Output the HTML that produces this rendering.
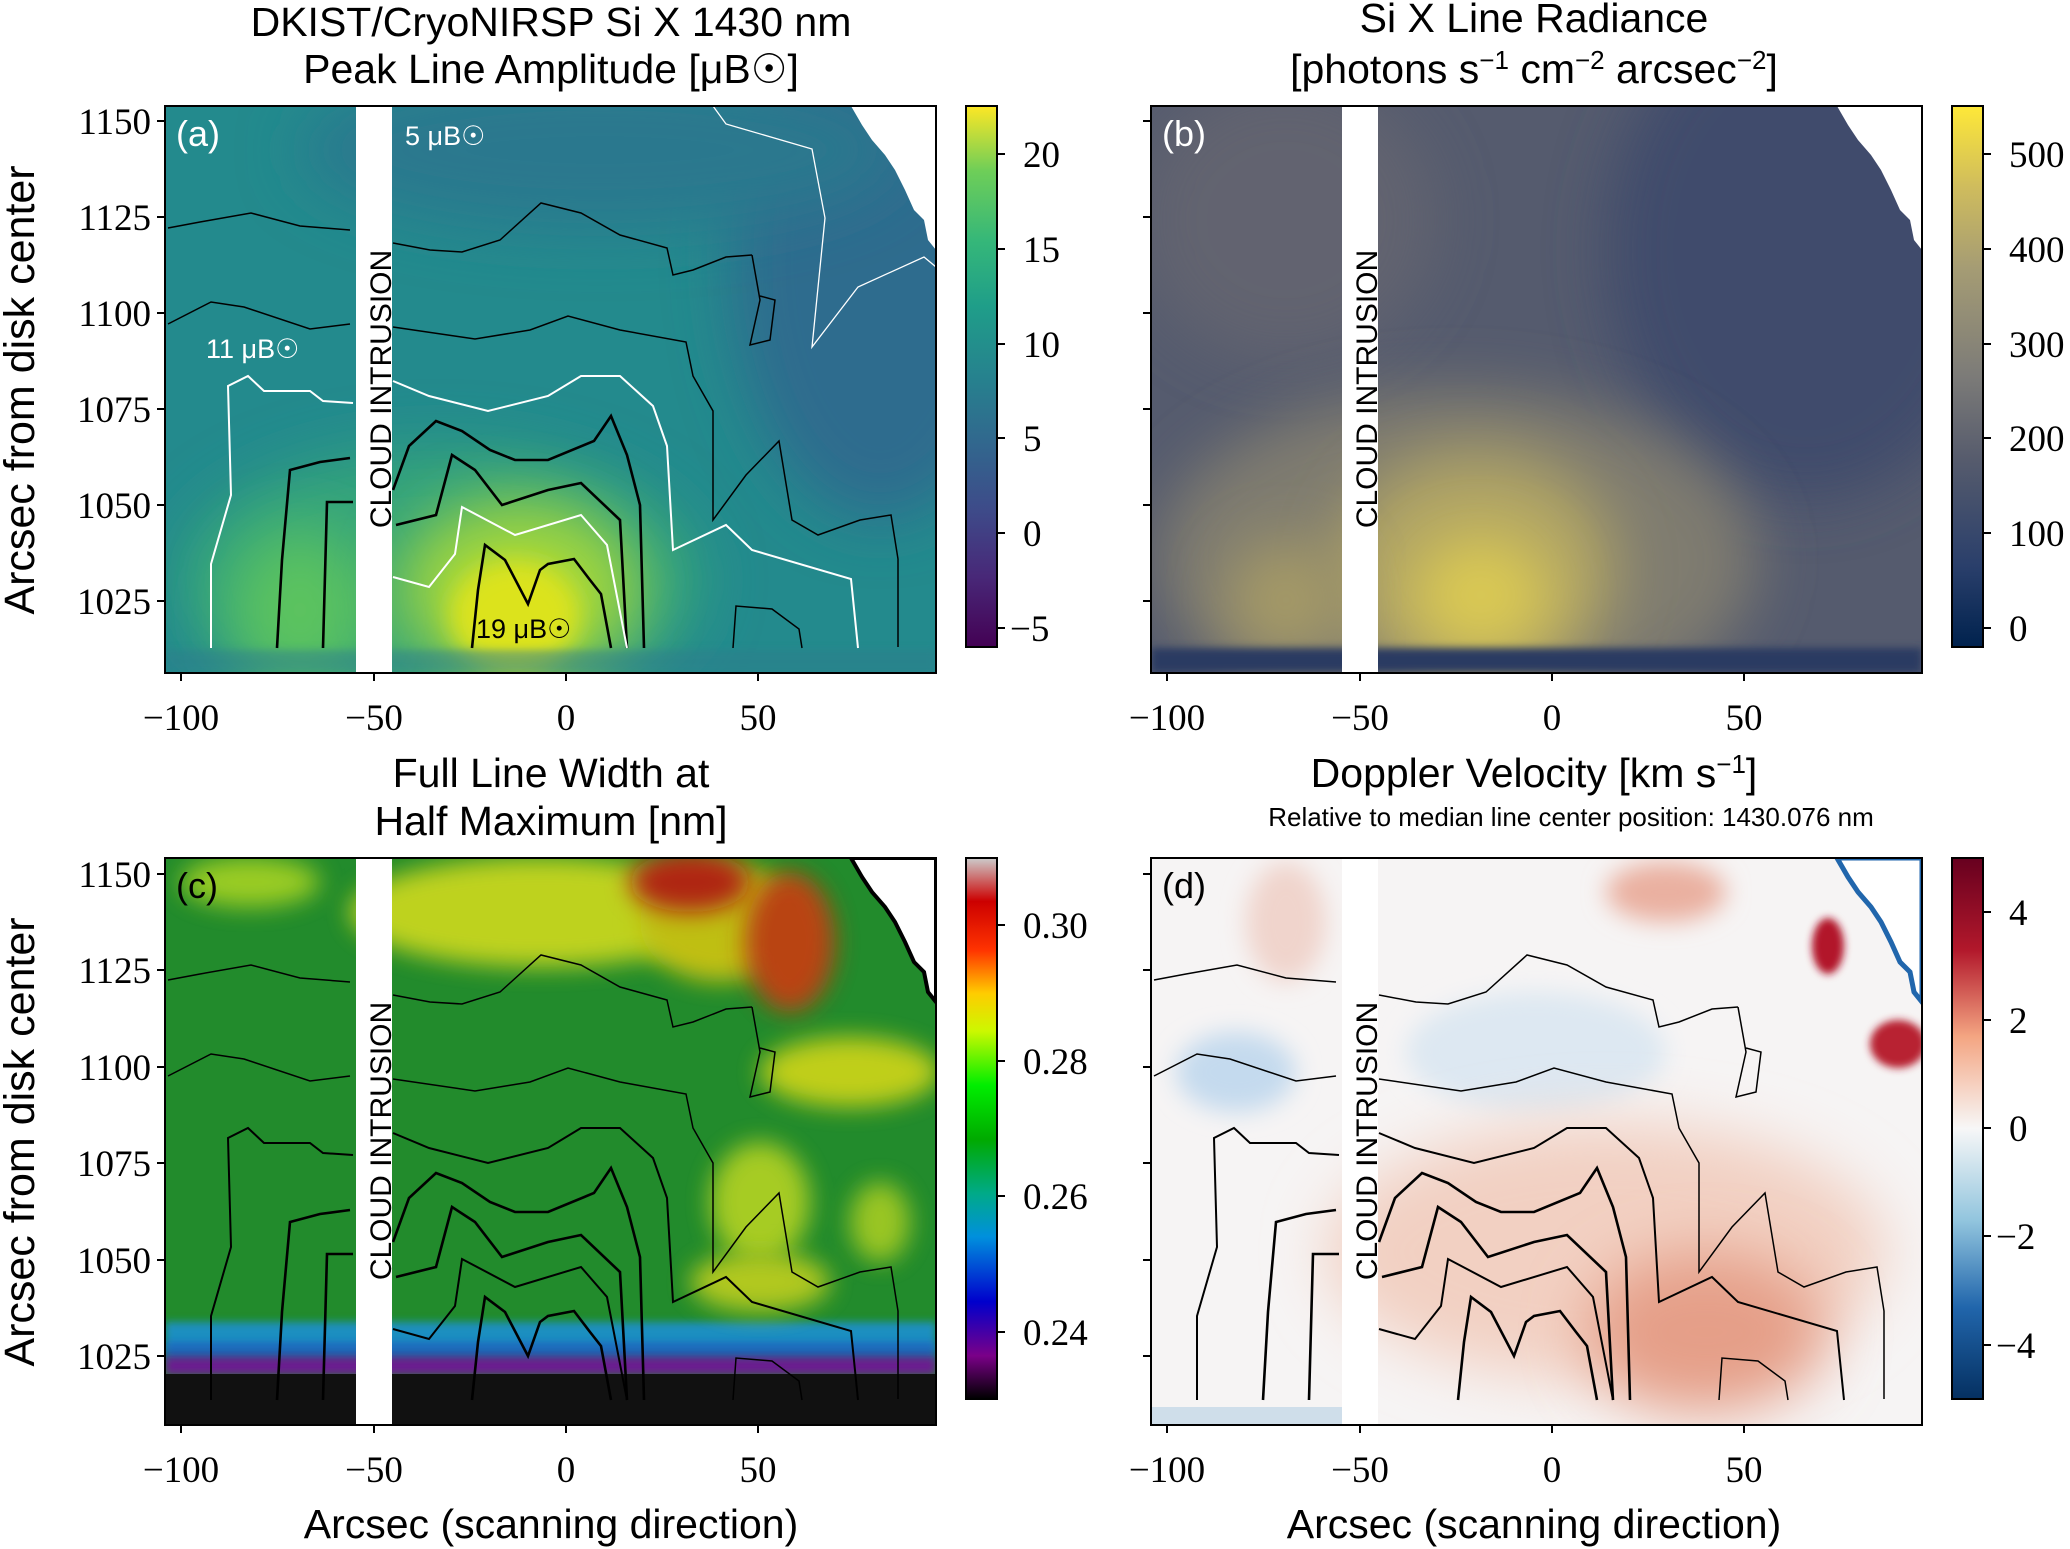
<!DOCTYPE html>
<html><head><meta charset="utf-8"><style>
html,body{margin:0;padding:0;background:#fff}
svg{display:block}
.t{font-family:"Liberation Sans",sans-serif;fill:#000}
.n{font-family:"Liberation Serif",serif;font-size:37px;fill:#000}
</style></head><body>
<svg width="2070" height="1549" viewBox="0 0 2070 1549" xmlns="http://www.w3.org/2000/svg">
<defs>
<linearGradient id="vir" x1="0" y1="1" x2="0" y2="0">
<stop offset="0" stop-color="#440154"/><stop offset="0.13" stop-color="#482878"/><stop offset="0.25" stop-color="#3e4a89"/><stop offset="0.38" stop-color="#31688e"/><stop offset="0.5" stop-color="#26828e"/><stop offset="0.63" stop-color="#1f9e89"/><stop offset="0.75" stop-color="#35b779"/><stop offset="0.88" stop-color="#6ece58"/><stop offset="1" stop-color="#fde725"/></linearGradient>
<linearGradient id="civ" x1="0" y1="1" x2="0" y2="0">
<stop offset="0" stop-color="#00224e"/><stop offset="0.15" stop-color="#2a3f6b"/><stop offset="0.35" stop-color="#575c6d"/><stop offset="0.5" stop-color="#7c7b78"/><stop offset="0.7" stop-color="#a59c74"/><stop offset="0.85" stop-color="#cfbc5d"/><stop offset="1" stop-color="#fee838"/></linearGradient>
<linearGradient id="nip" x1="0" y1="1" x2="0" y2="0">
<stop offset="0" stop-color="#000"/><stop offset="0.08" stop-color="#7a0088"/><stop offset="0.18" stop-color="#0000cc"/><stop offset="0.3" stop-color="#0090dd"/><stop offset="0.38" stop-color="#00aa88"/><stop offset="0.48" stop-color="#00aa00"/><stop offset="0.58" stop-color="#00ee00"/><stop offset="0.68" stop-color="#ccf800"/><stop offset="0.75" stop-color="#ffcc00"/><stop offset="0.83" stop-color="#ff3300"/><stop offset="0.92" stop-color="#cc0000"/><stop offset="1" stop-color="#cccccc"/></linearGradient>
<linearGradient id="rdbu" x1="0" y1="1" x2="0" y2="0">
<stop offset="0" stop-color="#053061"/><stop offset="0.17" stop-color="#2166ac"/><stop offset="0.33" stop-color="#92c5de"/><stop offset="0.5" stop-color="#f7f7f7"/><stop offset="0.67" stop-color="#f4a582"/><stop offset="0.83" stop-color="#b2182b"/><stop offset="1" stop-color="#67001f"/></linearGradient>
<filter id="b1" x="-50%" y="-50%" width="200%" height="200%"><feGaussianBlur stdDeviation="30"/></filter>
<filter id="b2" x="-50%" y="-50%" width="200%" height="200%"><feGaussianBlur stdDeviation="12"/></filter>
<filter id="b3" x="-50%" y="-50%" width="200%" height="200%"><feGaussianBlur stdDeviation="4"/></filter>
<clipPath id="pc"><rect x="165" y="106" width="771" height="567"/></clipPath>
<g id="cthin" fill="none" stroke-width="1.5">
<path d="M168,228 L200,222 L251,213 L300,226 L350,230"/>
<path d="M393,243 L430,250 L462,252 L500,240 L541,203 L581,213 L620,235 L667,248 L673,275 L693,270 L726,257 L752,255"/>
<path d="M168,324 L211,302 L244,307 L310,329 L350,324"/>
<path d="M393,327 L475,339 L530,330 L568,316 L620,330 L686,342 L693,376 L713,411 L713,520 L746,475 L779,441 L792,520 L818,535 L860,520 L891,515 L898,559 L898,647"/>
<path d="M733,648 L736,606 L772,609 L799,629 L802,648"/>
<path d="M752,255 L760,300 L750,345 L770,340 L775,300 L760,296"/>
</g>
<g id="cthick" fill="none" stroke-width="2.6">
<path d="M277,648 L282,560 L290,470 L320,462 L350,458"/>
<path d="M393,490 L409,446 L436,421 L462,431 L490,450 L515,460 L548,460 L594,441 L611,416 L627,455 L640,505 L644,648"/>
<path d="M323,648 L327,502 L353,502"/>
<path d="M396,525 L436,515 L452,455 L475,470 L502,505 L548,490 L581,483 L620,520 L627,648"/>
<path d="M472,648 L478,590 L485,545 L505,560 L528,604 L540,570 L548,564 L574,559 L590,580 L601,594 L611,648"/>
</g>
<g id="cwhite" fill="none" stroke-width="2">
<path d="M211,648 L211,564 L231,495 L228,386 L248,376 L264,391 L310,391 L323,401 L353,403"/>
<path d="M393,381 L429,396 L488,411 L548,396 L581,376 L620,376 L653,406 L667,446 L673,550 L726,525 L752,550 L851,579 L858,648"/>
<path d="M393,577 L429,587 L455,554 L462,507 L515,535 L581,515 L607,545 L627,648"/>
</g>
<path id="corner" d="M851,106 L936,106 L936,250 L928,240 L924,220 L914,210 L905,190 L895,170 L885,155 L872,140 L862,125 Z"/>
</defs>

<!-- Panel a -->
<g clip-path="url(#pc)">
<rect x="165" y="106" width="771" height="567" fill="#238a8d"/>
<ellipse cx="880" cy="260" rx="150" ry="260" fill="#2f6c8e" filter="url(#b1)"/>
<ellipse cx="600" cy="150" rx="300" ry="80" fill="#2a788e" filter="url(#b1)"/>
<ellipse cx="440" cy="580" rx="260" ry="130" fill="#35a57a" filter="url(#b1)"/>
<ellipse cx="300" cy="610" rx="70" ry="80" fill="#5cc35e" filter="url(#b1)"/>
<ellipse cx="520" cy="590" rx="120" ry="90" fill="#a0d63e" filter="url(#b1)"/>
<ellipse cx="515" cy="615" rx="65" ry="55" fill="#dce31e" filter="url(#b2)"/>
<rect x="165" y="650" width="771" height="23" fill="#2f7e8c" opacity="0.5" filter="url(#b3)"/>
<use href="#cthin" stroke="#000"/>
<use href="#cthick" stroke="#000"/>
<use href="#cwhite" stroke="#fff"/>
<path d="M713,106 L726,124 L812,149 L825,218 L812,347 L858,287 L924,257 L936,267" fill="none" stroke="#fff" stroke-width="1.3"/>
<use href="#corner" fill="#fff"/>
</g>
<rect x="356" y="106" width="36" height="567" fill="#fff"/>
<rect x="165" y="106" width="771" height="567" fill="none" stroke="#000" stroke-width="2"/>
<text class="t" font-size="30" transform="translate(383,389) rotate(-90)" text-anchor="middle" dominant-baseline="middle" x="0" y="0">CLOUD INTRUSION</text>
<text class="t" font-size="36" x="176" y="146" style="fill:#fff">(a)</text>
<text class="t" font-size="27" x="405" y="145" style="fill:#fff">5 μB☉</text>
<text class="t" font-size="27" x="206" y="358" style="fill:#fff">11 μB☉</text>
<text class="t" font-size="27" x="476" y="638">19 μB☉</text>

<!-- Panel b -->
<g transform="translate(986,0)" clip-path="url(#pc)">
<rect x="165" y="106" width="771" height="567" fill="#555b6e"/>
<ellipse cx="820" cy="250" rx="200" ry="250" fill="#404c6c" filter="url(#b1)"/>
<ellipse cx="300" cy="220" rx="150" ry="140" fill="#62646f" filter="url(#b1)"/>
<ellipse cx="470" cy="560" rx="300" ry="170" fill="#7f7c70" filter="url(#b1)"/>
<ellipse cx="490" cy="570" rx="140" ry="120" fill="#b0a465" filter="url(#b1)"/>
<ellipse cx="495" cy="595" rx="70" ry="60" fill="#dac952" filter="url(#b1)"/>
<ellipse cx="300" cy="600" rx="60" ry="60" fill="#a59a66" filter="url(#b1)"/>
<rect x="165" y="648" width="771" height="25" fill="#2a3a62" filter="url(#b3)"/>
<use href="#corner" fill="#fff"/>
</g>
<rect x="1342" y="106" width="36" height="567" fill="#fff"/>
<rect x="1151" y="106" width="771" height="567" fill="none" stroke="#000" stroke-width="2"/>
<text class="t" font-size="30" transform="translate(1369,389) rotate(-90)" text-anchor="middle" dominant-baseline="middle">CLOUD INTRUSION</text>
<text class="t" font-size="36" x="1162" y="146" style="fill:#fff">(b)</text>

<!-- Panel c -->
<g transform="translate(0,752)" clip-path="url(#pc)">
<rect x="165" y="106" width="771" height="567" fill="#228b2c"/>
<rect x="165" y="570" width="771" height="30" fill="#1a8fc0" filter="url(#b3)"/>
<rect x="165" y="590" width="771" height="20" fill="#1a60c0" opacity="0.8" filter="url(#b3)"/>
<rect x="165" y="605" width="771" height="18" fill="#6a1a90" filter="url(#b3)"/>
<rect x="165" y="622" width="771" height="51" fill="#111"/>
<g opacity="0.8">
<ellipse cx="540" cy="160" rx="190" ry="55" fill="#e6e41a" filter="url(#b2)"/>
<ellipse cx="250" cy="130" rx="70" ry="25" fill="#b9dd20" filter="url(#b2)"/>
<ellipse cx="720" cy="170" rx="80" ry="60" fill="#e8cc10" filter="url(#b2)"/>
<ellipse cx="690" cy="130" rx="60" ry="30" fill="#d41010" filter="url(#b2)"/>
<ellipse cx="790" cy="190" rx="45" ry="70" fill="#e03010" filter="url(#b2)"/>
<ellipse cx="850" cy="320" rx="90" ry="35" fill="#e8e018" filter="url(#b2)"/>
<ellipse cx="760" cy="450" rx="50" ry="60" fill="#c8dc20" filter="url(#b2)"/>
<ellipse cx="760" cy="530" rx="70" ry="30" fill="#d6d81a" filter="url(#b2)"/>
<ellipse cx="880" cy="470" rx="30" ry="40" fill="#b8d420" filter="url(#b2)"/>
</g>
<use href="#cthin" stroke="#000"/>
<use href="#cthick" stroke="#000"/>
<use href="#cwhite" stroke="#000"/>
<use href="#corner" fill="#fff" stroke="#000" stroke-width="4"/>
</g>
<rect x="356" y="858" width="36" height="567" fill="#fff"/>
<rect x="165" y="858" width="771" height="567" fill="none" stroke="#000" stroke-width="2"/>
<text class="t" font-size="30" transform="translate(383,1141) rotate(-90)" text-anchor="middle" dominant-baseline="middle">CLOUD INTRUSION</text>
<text class="t" font-size="36" x="176" y="898">(c)</text>

<!-- Panel d -->
<g transform="translate(986,752)" clip-path="url(#pc)">
<rect x="165" y="106" width="771" height="567" fill="#f6f4f4"/>
<ellipse cx="250" cy="320" rx="60" ry="40" fill="#c4daee" filter="url(#b2)"/>
<ellipse cx="550" cy="300" rx="130" ry="60" fill="#dde8f2" filter="url(#b2)"/>
<ellipse cx="300" cy="170" rx="40" ry="60" fill="#f0d4cc" filter="url(#b2)"/>
<ellipse cx="620" cy="500" rx="280" ry="130" fill="#f2d0c2" filter="url(#b1)"/>
<ellipse cx="720" cy="580" rx="120" ry="80" fill="#e59f88" filter="url(#b1)"/>
<ellipse cx="680" cy="140" rx="60" ry="30" fill="#eab0a0" filter="url(#b2)"/>
<ellipse cx="842" cy="194" rx="16" ry="28" fill="#b2182b" filter="url(#b3)"/>
<ellipse cx="912" cy="292" rx="28" ry="24" fill="#b82030" filter="url(#b3)"/>
<rect x="165" y="655" width="200" height="18" fill="#a8c8e0" opacity="0.5"/>
<use href="#cthin" stroke="#000"/>
<use href="#cthick" stroke="#000"/>
<use href="#cwhite" stroke="#000"/>
<use href="#corner" fill="#fff" stroke="#2166ac" stroke-width="5"/>
</g>
<rect x="1342" y="858" width="36" height="567" fill="#fff"/>
<rect x="1151" y="858" width="771" height="567" fill="none" stroke="#000" stroke-width="2"/>
<text class="t" font-size="30" transform="translate(1369,1141) rotate(-90)" text-anchor="middle" dominant-baseline="middle">CLOUD INTRUSION</text>
<text class="t" font-size="36" x="1162" y="898">(d)</text>

<!-- Colorbars -->
<rect x="966" y="106" width="31" height="541" fill="url(#vir)" stroke="#000" stroke-width="2"/>
<rect x="1952" y="106" width="31" height="541" fill="url(#civ)" stroke="#000" stroke-width="2"/>
<rect x="966" y="858" width="31" height="541" fill="url(#nip)" stroke="#000" stroke-width="2"/>
<rect x="1952" y="858" width="31" height="541" fill="url(#rdbu)" stroke="#000" stroke-width="2"/>

<g stroke="#000" stroke-width="2">
<path d="M997,154h8M997,249h8M997,344h8M997,438h8M997,533h8M997,628h8"/>
<path d="M1983,154h8M1983,249h8M1983,344h8M1983,438h8M1983,533h8M1983,628h8"/>
<path d="M997,925h8M997,1061h8M997,1196h8M997,1332h8"/>
<path d="M1983,912h8M1983,1020h8M1983,1128h8M1983,1236h8M1983,1345h8"/>
<path d="M165,121h-8M165,217h-8M165,313h-8M165,409h-8M165,505h-8M165,601h-8"/>
<path d="M1151,121h-8M1151,217h-8M1151,313h-8M1151,409h-8M1151,505h-8M1151,601h-8"/>
<path d="M165,874h-8M165,970h-8M165,1067h-8M165,1163h-8M165,1260h-8M165,1356h-8"/>
<path d="M1151,874h-8M1151,970h-8M1151,1067h-8M1151,1163h-8M1151,1260h-8M1151,1356h-8"/>
<path d="M181,673v8M374,673v8M566,673v8M758,673v8"/>
<path d="M1167,673v8M1360,673v8M1552,673v8M1744,673v8"/>
<path d="M181,1425v8M374,1425v8M566,1425v8M758,1425v8"/>
<path d="M1167,1425v8M1360,1425v8M1552,1425v8M1744,1425v8"/>
</g>

<g class="n">
<text x="1023" y="167">20</text><text x="1023" y="262">15</text><text x="1023" y="357">10</text><text x="1023" y="451">5</text><text x="1023" y="546">0</text><text x="1010" y="641">−5</text>
<text x="2009" y="167">500</text><text x="2009" y="262">400</text><text x="2009" y="357">300</text><text x="2009" y="451">200</text><text x="2009" y="546">100</text><text x="2009" y="641">0</text>
<text x="1023" y="938">0.30</text><text x="1023" y="1074">0.28</text><text x="1023" y="1209">0.26</text><text x="1023" y="1345">0.24</text>
<text x="2009" y="925">4</text><text x="2009" y="1033">2</text><text x="2009" y="1141">0</text><text x="1996" y="1249">−2</text><text x="1996" y="1358">−4</text>
<g text-anchor="end">
<text x="151" y="134">1150</text><text x="151" y="230">1125</text><text x="151" y="326">1100</text><text x="151" y="422">1075</text><text x="151" y="518">1050</text><text x="151" y="614">1025</text>
<text x="151" y="887">1150</text><text x="151" y="983">1125</text><text x="151" y="1080">1100</text><text x="151" y="1176">1075</text><text x="151" y="1273">1050</text><text x="151" y="1369">1025</text>
</g>
<g text-anchor="middle">
<text x="181" y="730">−100</text><text x="374" y="730">−50</text><text x="566" y="730">0</text><text x="758" y="730">50</text>
<text x="1167" y="730">−100</text><text x="1360" y="730">−50</text><text x="1552" y="730">0</text><text x="1744" y="730">50</text>
<text x="181" y="1482">−100</text><text x="374" y="1482">−50</text><text x="566" y="1482">0</text><text x="758" y="1482">50</text>
<text x="1167" y="1482">−100</text><text x="1360" y="1482">−50</text><text x="1552" y="1482">0</text><text x="1744" y="1482">50</text>
</g>
</g>

<g class="t" font-size="41" text-anchor="middle">
<text x="551" y="36">DKIST/CryoNIRSP Si X 1430 nm</text>
<text x="551" y="83">Peak Line Amplitude [μB☉]</text>
<text x="1534" y="32">Si X Line Radiance</text>
<text x="1534" y="83">[photons s<tspan font-size="26" dy="-14">−1</tspan><tspan dy="14"> cm</tspan><tspan font-size="26" dy="-14">−2</tspan><tspan dy="14"> arcsec</tspan><tspan font-size="26" dy="-14">−2</tspan><tspan dy="14">]</tspan></text>
<text x="551" y="787">Full Line Width at</text>
<text x="551" y="835">Half Maximum [nm]</text>
<text x="1534" y="787">Doppler Velocity [km s<tspan font-size="26" dy="-14">−1</tspan><tspan dy="14">]</tspan></text>
<text x="1571" y="826" font-size="26">Relative to median line center position: 1430.076 nm</text>
<text x="551" y="1538">Arcsec (scanning direction)</text>
<text x="1534" y="1538">Arcsec (scanning direction)</text>
<text transform="translate(34,390) rotate(-90)" font-size="43">Arcsec from disk center</text>
<text transform="translate(34,1142) rotate(-90)" font-size="43">Arcsec from disk center</text>
</g>
</svg>
</body></html>
